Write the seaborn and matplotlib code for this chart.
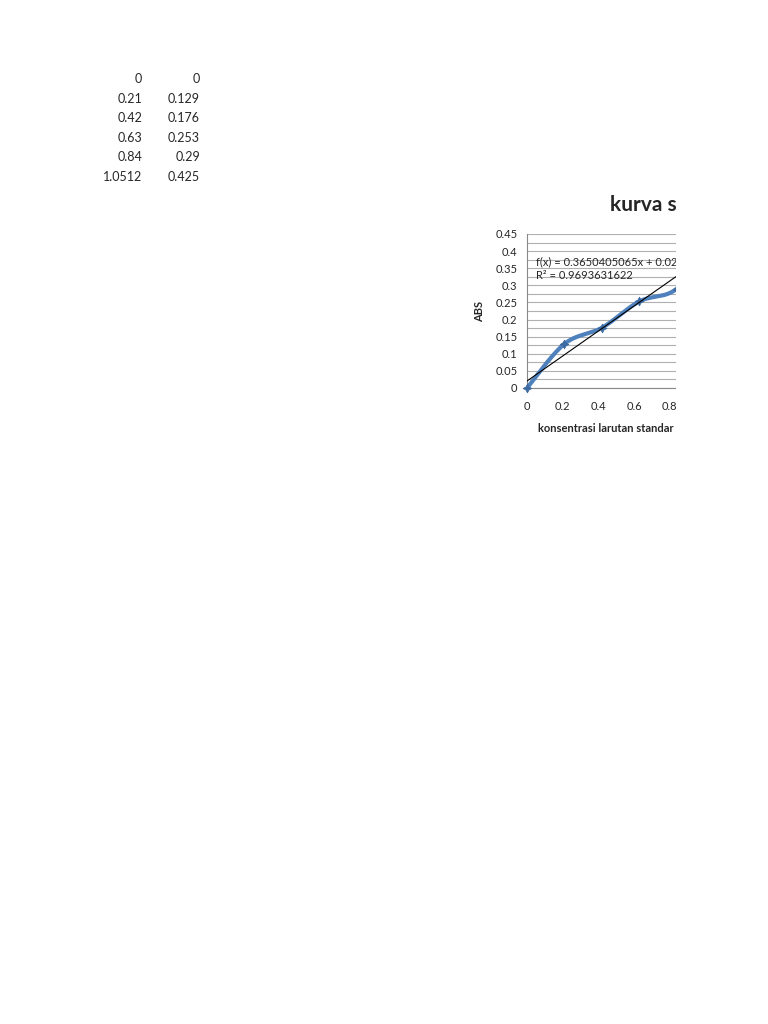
import numpy as np
import pandas as pd
import matplotlib
matplotlib.use("Agg")
import matplotlib.pyplot as plt
from matplotlib.patches import Rectangle
import seaborn as sns

# table / series values
konsentrasi = [0, 0.21, 0.42, 0.63, 0.84, 1.0512]
abs_values = [0, 0.129, 0.176, 0.253, 0.29, 0.425]
table_col1 = ["0", "0.21", "0.42", "0.63", "0.84", "1.0512"]
table_col2 = ["0", "0.129", "0.176", "0.253", "0.29", "0.425"]
y_ticks = [0, 0.05, 0.1, 0.15, 0.2, 0.25, 0.3, 0.35, 0.4, 0.45]
x_ticks = [0, 0.2, 0.4, 0.6, 0.8, 1.0, 1.2]

df = pd.DataFrame({"x": konsentrasi, "y": abs_values})

sns.set_style("white")
plt.rcParams["font.family"] = ["Lato", "DejaVu Sans"]

BLUE = "#4F81BD"


def smooth_curve(xs, ys, n=30):
    # Excel-style smoothed line (Catmull-Rom through the data points)
    xs = np.asarray(xs, float)
    ys = np.asarray(ys, float)
    px = np.concatenate([[xs[0]], xs, [xs[-1]]])
    py = np.concatenate([[ys[0]], ys, [ys[-1]]])
    outx, outy = [], []
    t = np.linspace(0, 1, n)
    for i in range(1, len(px) - 2):
        p0, p1, p2, p3 = [np.array([px[j], py[j]]) for j in (i - 1, i, i + 1, i + 2)]
        c1 = p1 + (p2 - p0) / 6
        c2 = p2 - (p3 - p1) / 6
        b = ((1 - t) ** 3)[:, None] * p1 + (3 * (1 - t) ** 2 * t)[:, None] * c1 \
            + (3 * (1 - t) * t ** 2)[:, None] * c2 + (t ** 3)[:, None] * p2
        outx.extend(b[:, 0])
        outy.extend(b[:, 1])
    return outx, outy


fig = plt.figure(figsize=(7.68, 10.24), dpi=100)

# the sheet cells
for i, (a, b) in enumerate(zip(table_col1, table_col2)):
    ypos = 1 - (79 + i * 19.6) / 1024
    fig.text(142 / 768, ypos, a, ha="right", va="center", fontsize=9)
    fig.text(200 / 768, ypos, b, ha="right", va="center", fontsize=9)

# chart, the page cuts it off on the right
ax = fig.add_axes([527 / 768, 1 - 388 / 1024, 214 / 768, 154 / 1024])
ax.set_xlim(0, 1.2)
ax.set_ylim(0, 0.45)
ax.set_yticks(np.arange(0, 0.4501, 0.025), minor=True)
ax.set_yticks(y_ticks)
ax.set_yticklabels([f"{v:g}" for v in y_ticks])
ax.set_xticks(x_ticks)
ax.set_xticklabels([f"{v:g}" for v in x_ticks])
ax.grid(True, which="both", axis="y", color="#b0b0b0", lw=0.8)
ax.tick_params(axis="both", which="major", labelsize=8, length=5, color="#888888", pad=2)
ax.tick_params(axis="x", which="major", pad=4)
ax.tick_params(axis="y", which="minor", length=0)
for s in ["top", "right"]:
    ax.spines[s].set_visible(False)
for s in ["left", "bottom"]:
    ax.spines[s].set_color("#888888")
    ax.spines[s].set_linewidth(0.8)

sx, sy = smooth_curve(konsentrasi, abs_values)
ax.plot(sx, sy, color=BLUE, lw=3, solid_capstyle="round", zorder=3)
sns.scatterplot(data=df, x="x", y="y", ax=ax, marker=(4, 1, 0), s=40,
                color="#3d6aa0", edgecolor="#3d6aa0", zorder=4, clip_on=False)
sns.regplot(data=df, x="x", y="y", ax=ax, scatter=False, ci=None,
            line_kws={"color": "black", "lw": 0.8, "zorder": 5})

slope, intercept = np.polyfit(konsentrasi, abs_values, 1)
r2 = np.corrcoef(konsentrasi, abs_values)[0, 1] ** 2
ax.text(0.05, 0.37, f"f(x) = {slope:.10f}x + {intercept:.10f}", fontsize=8,
        va="center", ha="left")
ax.text(0.05, 0.33, f"R² = {r2:.10f}", fontsize=8, va="center", ha="left")

ax.set_xlabel("konsentrasi larutan standar Cu (ppm)", fontsize=8, fontweight="bold")
ax.set_ylabel("ABS", fontsize=8, fontweight="bold", labelpad=7)
ax.xaxis.set_label_coords(0.05, -0.23)
ax.xaxis.label.set_ha("left")

fig.text(610 / 768, 1 - 205 / 1024, "kurva standar Cu", fontsize=15,
         fontweight="bold", ha="left", va="center")

# blank page area to the right of the cut
fig.add_artist(Rectangle((676 / 768, 0), 1 - 676 / 768, 1, transform=fig.transFigure,
                         facecolor="white", edgecolor="none", zorder=20))

fig.savefig("out.png", dpi=100)
